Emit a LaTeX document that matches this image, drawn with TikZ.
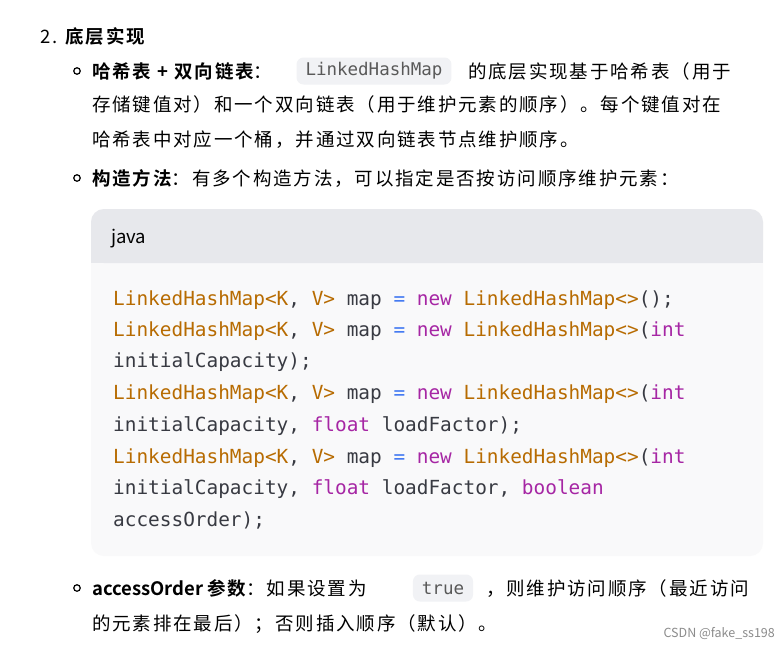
\documentclass[tikz,border=0pt]{standalone}
\usepackage{fontspec}
\usepackage{xcolor}
\setmainfont{Noto Sans CJK SC}
\newfontfamily\cjk[LetterSpace=10]{Noto Sans CJK SC}
\newfontfamily\cjkb[LetterSpace=10]{Noto Sans CJK SC Bold}
\newfontfamily\latb{Noto Sans CJK SC Bold}
\newfontfamily\mono{DejaVu Sans Mono}
\definecolor{kw}{HTML}{A626A4}
\definecolor{ty}{HTML}{B76B01}
\definecolor{op}{HTML}{4078F2}
\definecolor{tx}{HTML}{383A42}
\definecolor{hd}{HTML}{E7E8EC}
\definecolor{bd}{HTML}{F9F9FA}
\definecolor{ic}{HTML}{F1F2F5}
\newcommand{\T}[1]{\textcolor{ty}{#1}}
\newcommand{\K}[1]{\textcolor{kw}{#1}}
\newcommand{\Q}{\textcolor{op}{=}}
\begin{document}
\begin{tikzpicture}[x=1pt,y=-1pt,
  txt/.style={anchor=base west,inner sep=0,font=\fontsize{18.5}{20}\cjk,text=black},
  code/.style={anchor=base west,inner sep=0,font=\fontsize{19.4}{20}\mono,text=tx},
  bul/.style={circle,draw=black,line width=1.2pt,inner sep=0,minimum size=6.5pt},
  icode/.style={fill=ic,rounded corners=7pt,minimum height=27pt,inner xsep=9pt,font=\fontsize{17.5}{18}\mono,text=black!65}]
\useasboundingbox (0,0) rectangle (784,645);
\fill[white] (0,0) rectangle (784,645);
\node[txt] (h) at (40,43) {2. {\cjkb 底层实现}};
\node[bul] (b1) at (77,71) {};
\node[txt] (l1) at (92,78) {{\cjkb 哈希表 + 双向链表}：};
\node[icode] (c1) at (374,71) {LinkedHashMap};
\node[txt] (l1b) at (468,78) {的底层实现基于哈希表（用于};
\node[txt] (l2) at (92,111) {存储键值对）和一个双向链表（用于维护元素的顺序）。每个键值对在};
\node[txt] (l3) at (92,146) {哈希表中对应一个桶，并通过双向链表节点维护顺序。};
\node[bul] (b2) at (77,178) {};
\node[txt] (l4) at (92,185) {{\cjkb 构造方法}：有多个构造方法，可以指定是否按访问顺序维护元素：};
\fill[bd,rounded corners=13pt] (91,209) rectangle (763,556);
\fill[hd,rounded corners=13pt] (91,209) rectangle (763,263);
\fill[hd] (91,245) rectangle (763,263);
\node[txt,font=\fontsize{18.5}{20}\selectfont] (j) at (111,243) {java};
\node[code] (k1) at (113,305) {\T{LinkedHashMap<K}, \T{V>} map \Q{} \K{new} \T{LinkedHashMap<>}();};
\node[code] (k2) at (113,336) {\T{LinkedHashMap<K}, \T{V>} map \Q{} \K{new} \T{LinkedHashMap<>}(\K{int}};
\node[code] (k3) at (113,367) {initialCapacity);};
\node[code] (k4) at (113,399) {\T{LinkedHashMap<K}, \T{V>} map \Q{} \K{new} \T{LinkedHashMap<>}(\K{int}};
\node[code] (k5) at (113,431) {initialCapacity, \K{float} loadFactor);};
\node[code] (k6) at (113,463) {\T{LinkedHashMap<K}, \T{V>} map \Q{} \K{new} \T{LinkedHashMap<>}(\K{int}};
\node[code] (k7) at (113,494) {initialCapacity, \K{float} loadFactor, \K{boolean}};
\node[code] (k8) at (113,526) {accessOrder);};
\node[bul] (b3) at (77,588) {};
\node[txt] (l5) at (92,595) {{\latb accessOrder }{\cjkb 参数}：如果设置为};
\node[icode] (c2) at (443,588) {true};
\node[txt] (l5b) at (486,595) {，则维护访问顺序（最近访问};
\node[txt] (l6) at (92,630) {的元素排在最后）；否则插入顺序（默认）。};
\node[anchor=base east,inner sep=0,font=\fontsize{12.5}{14}\selectfont,text=black!45] (wm) at (775,637) {CSDN @fake\_ss198};
\end{tikzpicture}
\end{document}
